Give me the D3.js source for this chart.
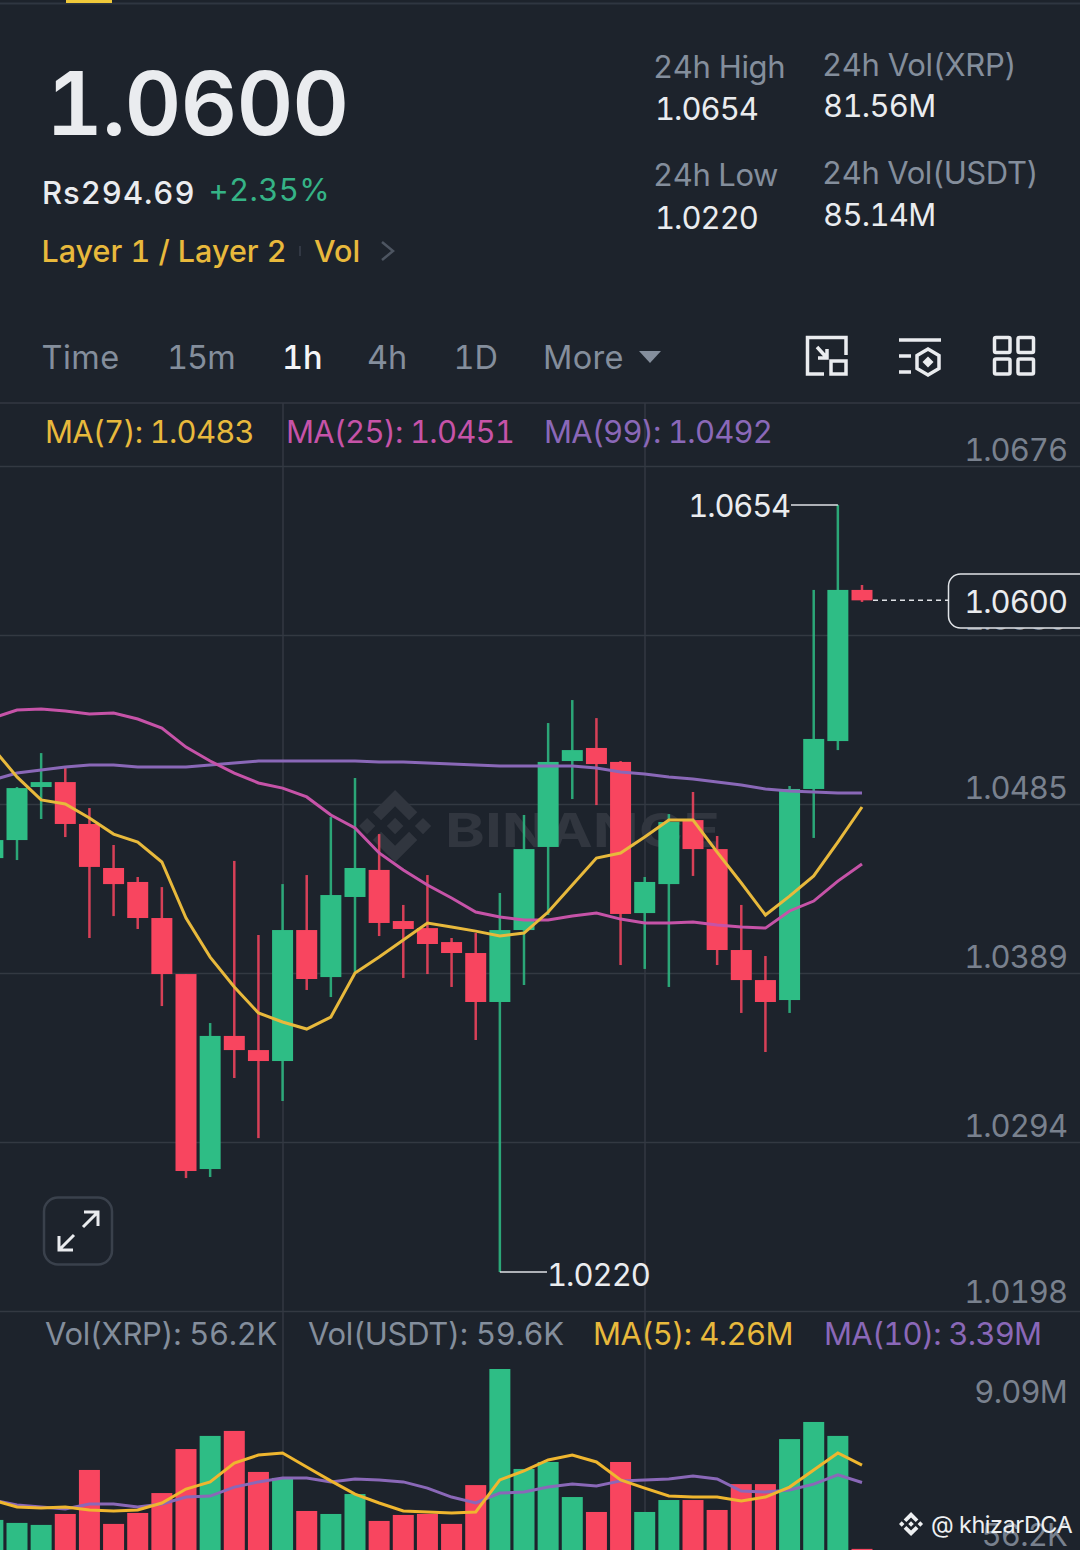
<!DOCTYPE html>
<html>
<head>
<meta charset="utf-8">
<script src="https://cdn.jsdelivr.net/npm/d3@7/dist/d3.min.js"></script>
<style>
html,body{margin:0;padding:0;background:#1d232c;width:1080px;height:1550px;overflow:hidden}
svg{display:block}
text{font-family:Inter,"Noto Sans",sans-serif;font-variant-numeric:tabular-nums;font-feature-settings:"tnum" 1}
</style>
</head>
<body>
<svg id="chart" width="1080" height="1550"></svg>
<script>
const priceOpen=[1.04542,1.04644,1.04944,1.04972,1.04735,1.04486,1.04407,1.04203,1.03886,1.02783,1.03536,1.03456,1.03394,1.04135,1.03869,1.04322,1.04475,1.04186,1.04146,1.04067,1.04005,1.03728,1.04135,1.04605,1.05091,1.05165,1.05086,1.04231,1.04395,1.04757,1.04593,1.04022,1.03852,1.03739,1.04933,1.05204,1.06059];
const priceClose=[1.04644,1.04938,1.04972,1.04735,1.04492,1.04395,1.04203,1.03886,1.02772,1.03536,1.03456,1.03394,1.04135,1.03858,1.04333,1.04486,1.04175,1.04141,1.04056,1.04005,1.03728,1.04135,1.04593,1.05086,1.05153,1.05074,1.04226,1.04407,1.04746,1.04593,1.04022,1.03852,1.03728,1.04933,1.05216,1.06059,1.0600];
const priceHigh=[1.04701,1.04944,1.05136,1.05052,1.04825,1.04616,1.04435,1.04378,1.03886,1.03609,1.04526,1.04107,1.04395,1.04446,1.04774,1.04995,1.04678,1.04277,1.04446,1.04090,1.04118,1.04344,1.04786,1.05306,1.05436,1.05334,1.05091,1.04435,1.04791,1.04916,1.04667,1.04277,1.03988,1.04950,1.06059,1.0654,1.06087];
const priceLow=[1.04542,1.04531,1.04763,1.04661,1.04090,1.04214,1.04141,1.03705,1.02732,1.02738,1.03298,1.02958,1.03168,1.03796,1.03756,1.03892,1.04101,1.03864,1.03886,1.03813,1.03513,1.0220,1.03824,1.04220,1.04876,1.04842,1.03937,1.03915,1.03813,1.04441,1.03937,1.03666,1.03445,1.03666,1.04656,1.05153,1.05991];
const ma7=[1.05165,1.05001,1.04871,1.04848,1.04769,1.04678,1.04633,1.04520,1.04203,1.03982,1.03813,1.03666,1.03615,1.03575,1.03643,1.03892,1.03982,1.04079,1.04175,1.04152,1.04129,1.04101,1.04118,1.04237,1.04390,1.04542,1.04571,1.04661,1.04757,1.04757,1.04576,1.04401,1.04220,1.04327,1.04441,1.04633,1.04831];
const ma25=[1.05334,1.05380,1.05385,1.05374,1.05357,1.05363,1.05329,1.05278,1.05170,1.05091,1.05023,1.04967,1.04938,1.04888,1.04786,1.04712,1.04571,1.04475,1.04390,1.04316,1.04237,1.04209,1.04192,1.04192,1.04214,1.04231,1.04197,1.04175,1.04175,1.04180,1.04163,1.04152,1.04146,1.04243,1.04299,1.04412,1.04509];
const ma99=[1.04984,1.05023,1.05040,1.05057,1.05069,1.05069,1.05057,1.05057,1.05057,1.05069,1.05080,1.05091,1.05091,1.05091,1.05091,1.05091,1.05086,1.05086,1.05080,1.05074,1.05069,1.05063,1.05063,1.05063,1.05063,1.05052,1.05029,1.05018,1.05001,1.04989,1.04972,1.04955,1.04933,1.04921,1.04916,1.04910,1.04910];
const volumes=[1.51,1.36,1.26,1.81,4.02,1.31,1.86,2.86,5.07,5.73,5.98,3.92,3.62,1.96,1.81,2.81,1.46,1.76,1.81,1.31,3.26,9.09,4.07,4.42,2.66,1.91,4.42,1.91,2.51,2.51,2.01,3.31,3.31,5.57,6.43,5.73,0.056];
const volMa5=[2.51,2.16,2.11,2.16,2.01,1.96,2.01,2.36,3.06,3.42,4.37,4.77,4.87,4.17,3.47,2.81,2.36,1.96,1.91,1.86,1.91,3.52,3.97,4.52,4.77,4.42,3.52,3.11,2.71,2.66,2.66,2.46,2.66,3.16,4.02,4.87,4.26];
const volMa10=[2.51,2.26,2.16,2.06,2.31,2.31,2.16,2.31,2.66,2.71,3.16,3.42,3.62,3.62,3.42,3.57,3.52,3.42,3.11,2.66,2.36,2.86,2.91,3.16,3.31,3.21,3.47,3.52,3.57,3.72,3.57,2.96,2.91,3.01,3.31,3.77,3.39];
const priceTicks=[1.0676,1.05804,1.04848,1.03892,1.02936,1.0198];
const volTicks=[9.09,0.0562];
const volTickLabels=["9.09M","56.2K"];
const timeTabs=["Time","15m","1h","4h","1D","More"];
const priceLegend=["MA(7): 1.0483","MA(25): 1.0451","MA(99): 1.0492"];
const volLegend=["Vol(XRP): 56.2K","Vol(USDT): 59.6K","MA(5): 4.26M","MA(10): 3.39M"];

const BG="#1d232c",GREEN="#2ebd85",RED="#f8455f",GRID="#333942",GREY="#848e9c",WHITE="#eaecef",
      YEL="#e8b93c",MAG="#c653a8",PUR="#8a68b8",LBL="#79818e";
const LOGO=["M38.73 53.2l24.59-24.58 24.6 24.6 14.3-14.31L63.32 0 24.43 38.9z",
  "M0 63.31l14.3-14.31 14.31 14.31-14.31 14.3z",
  "M38.73 73.41l24.59 24.59 24.6-24.6 14.31 14.29-38.9 38.91-38.91-38.88z",
  "M98 63.31l14.3-14.31 14.31 14.3-14.31 14.32z",
  "M77.83 63.3L63.32 48.78 52.59 59.51l-1.24 1.23-2.54 2.54 14.51 14.5 14.51-14.47z"].join("");
const svg=d3.select("#chart");
const idx=d3.range(priceOpen.length);
const x=d3.scaleLinear().domain([0,36]).range([-7.14,862]);
const y=d3.scaleLinear().domain([1.0198,1.0676]).range([1311,466]);
const yV=d3.scaleLinear().domain([0,9.09]).range([1550,1369]);
const BW=21;

function T(t,px,py,size,fill,weight,anchor,ls){
  return svg.append("text").text(t).attr("x",px).attr("y",py).attr("font-size",size)
    .attr("fill",fill).attr("font-weight",weight||400).attr("text-anchor",anchor||"start")
    .attr("letter-spacing",ls||0);
}
// top bar
svg.append("line").attr("x1",0).attr("x2",1080).attr("y1",3.5).attr("y2",3.5).attr("stroke","#2f3641").attr("stroke-width",2);
svg.append("rect").attr("x",66).attr("y",0).attr("width",46).attr("height",3).attr("fill","#f0c93a");

// header
T("1.0600",46,135,88,WHITE,600,"start",-1);
T("Rs294.69",42,204,31,WHITE,500,"start",1);
T("+2.35%",208.5,201,31,"#35b386",400,"start",.4);
T("Layer 1 / Layer 2",41.5,262,30.5,YEL,500);
T("Vol",314,262,30.5,YEL,500);
svg.append("line").attr("x1",300).attr("x2",300).attr("y1",246).attr("y2",256).attr("stroke","#3a414c").attr("stroke-width",1.5);
svg.append("path").attr("d","M382 242L393 251L382 260").attr("fill","none").attr("stroke","#4d5561").attr("stroke-width",2.5);
T("24h High",653,78,31,GREY,400,"start",-.3);
T("1.0654",655,120,31,WHITE,400,"start",-1);
T("24h Low",653,186,31,GREY,400,"start",-.4);
T("1.0220",655,229,31,WHITE,400,"start",-1);
T("24h Vol(XRP)",822,76,31,GREY,400,"start",-.3);
T("81.56M",823,117,31,WHITE,400,"start",-.7);
T("24h Vol(USDT)",822,184,31,GREY,400,"start",-.4);
T("85.14M",823,226,31,WHITE,400,"start",-.7);

// tabs
const tabX=[41.5,167,282,367,453.5,543];
const tabLs=[.5,-1,0,0,0,.3];
timeTabs.forEach((t,i)=>T(t,tabX[i],369,32.5,i===2?"#f4f5f7":GREY,i===2?500:400,"start",tabLs[i]));
svg.append("path").attr("d","M639 351H661L650 363Z").attr("fill",GREY);
// icons
const ic=svg.append("g").attr("fill","none").attr("stroke",WHITE).attr("stroke-width",3.5);
ic.append("path").attr("d","M824 374H807.5V337.5H846V355");
ic.append("rect").attr("x",831).attr("y",361).attr("width",15).attr("height",13);
ic.append("path").attr("d","M817 347L827 358M827 349V358H818");
ic.append("path").attr("d","M899 340H941M899 356H911M899 372H911");
ic.append("path").attr("d","M928 349L939 355.5V368.5L928 375L917 368.5V355.5Z");
svg.append("path").attr("d","M928 356.5L933.5 362L928 367.5L922.5 362Z").attr("fill",WHITE);
[[994.5,337.5],[1018,337.5],[994.5,359],[1018,359]].forEach(p=>ic.append("rect").attr("x",p[0]).attr("y",p[1]).attr("width",15.5).attr("height",15).attr("rx",1.5));

// separator and grid
svg.append("line").attr("x1",0).attr("x2",1080).attr("y1",403).attr("y2",403).attr("stroke",GRID).attr("stroke-width",1.5);
[283,645].forEach(v=>svg.append("line").attr("x1",v).attr("x2",v).attr("y1",403).attr("y2",1550).attr("stroke",GRID).attr("stroke-width",1.5));

const axP=svg.append("g").call(d3.axisRight(y).tickValues(priceTicks).tickSize(1080).tickFormat(d3.format(".4f")));
axP.select(".domain").remove();
axP.selectAll("line").attr("stroke",GRID).attr("stroke-width",1.5);
axP.selectAll("text").attr("x",1067).attr("dy",(d,i)=>i===5?-8.5:-5.5).attr("text-anchor","end").attr("font-size",31).attr("letter-spacing",-1).attr("fill",LBL).style("font-family","Inter");

// watermark
svg.append("path").attr("d",LOGO).attr("fill","#31363f").attr("transform","translate(359,790) scale(0.57)");
svg.append("text").text("BINANCE").attr("x",445).attr("y",847).attr("font-size",47).attr("font-weight",700)
  .attr("fill","#31363f").attr("textLength",275).attr("lengthAdjust","spacingAndGlyphs");

// candles
const col=i=>priceClose[i]>=priceOpen[i]?GREEN:RED;
const candles=svg.append("g");
candles.selectAll("line").data(idx).join("line")
  .attr("x1",x).attr("x2",x).attr("y1",i=>y(priceHigh[i])).attr("y2",i=>y(priceLow[i]))
  .attr("stroke",col).attr("stroke-opacity",.85).attr("stroke-width",2.5);
candles.selectAll("rect").data(idx).join("rect")
  .attr("x",i=>x(i)-BW/2).attr("width",BW)
  .attr("y",i=>y(Math.max(priceOpen[i],priceClose[i])))
  .attr("height",i=>Math.abs(y(priceOpen[i])-y(priceClose[i])))
  .attr("fill",col);

// MA lines
const lp=d3.line().x((d,i)=>x(i)).y(d=>y(d));
[[ma99,PUR],[ma25,MAG],[ma7,YEL]].forEach(s=>svg.append("path").attr("d",lp(s[0])).attr("fill","none").attr("stroke",s[1]).attr("stroke-width",3));

// price legend
[[priceLegend[0],45,YEL],[priceLegend[1],286,MAG],[priceLegend[2],544,PUR]].forEach(d=>T(d[0],d[1],443,31,d[2],400,"start",-.8));

// high/low markers
const hiI=d3.maxIndex(priceHigh),loI=d3.minIndex(priceLow);
svg.append("path").attr("d",`M${x(hiI)} ${y(priceHigh[hiI])}H791`).attr("stroke","#dfe2e6").attr("stroke-width",1.5).attr("fill","none");
T(d3.format(".4f")(priceHigh[hiI]),790,517,31,WHITE,400,"end",-1.2);
svg.append("path").attr("d",`M${x(loI)} ${y(priceLow[loI])}H547`).attr("stroke","#dfe2e6").attr("stroke-width",1.5).attr("fill","none");
T(d3.format(".4f")(priceLow[loI]),547,1286,31,WHITE,400,"start",-1);

// last price
const lastI=priceClose.length-1;
svg.append("line").attr("x1",x(lastI)+11).attr("x2",948).attr("y1",y(priceClose[lastI])).attr("y2",y(priceClose[lastI]))
  .attr("stroke","#dfe2e6").attr("stroke-width",1.5).attr("stroke-dasharray","5 4");
svg.append("rect").attr("x",948.5).attr("y",574).attr("width",150).attr("height",54).attr("rx",12).attr("fill",BG).attr("stroke","#dfe2e6").attr("stroke-width",1.5);
T(d3.format(".4f")(priceClose[lastI]),1067,613,31,WHITE,400,"end",-1);

// expand button
svg.append("rect").attr("x",44).attr("y",1197.5).attr("width",68).attr("height",67).attr("rx",14).attr("fill",BG).attr("stroke","#3a414c").attr("stroke-width",2.5);
svg.append("path").attr("d","M59 1250L74 1235M59 1236V1250H73M98 1212L83 1227M84 1212H98V1226").attr("fill","none").attr("stroke",WHITE).attr("stroke-width",3);

// volume legend
[[volLegend[0],45,GREY,-.35],[volLegend[1],308,GREY,-.3],[volLegend[2],593,YEL,-.6],[volLegend[3],824,PUR,-.75]].forEach(d=>T(d[0],d[1],1345,31,d[2],400,"start",d[3]));

// volume axis
const axV=svg.append("g").attr("transform","translate(1067,0)").call(d3.axisLeft(yV).tickValues(volTicks).tickSize(0).tickFormat((d,i)=>volTickLabels[i]));
axV.select(".domain").remove();
axV.selectAll("text").attr("x",0).attr("dy",(d,i)=>i===0?"33":"-3").attr("text-anchor","end").attr("font-size",31).attr("letter-spacing",-.8).attr("fill",LBL).style("font-family","Inter");

// volume bars
svg.append("g").selectAll("rect").data(idx).join("rect")
  .attr("x",i=>x(i)-BW/2).attr("width",BW)
  .attr("y",i=>yV(volumes[i])).attr("height",i=>1550-yV(volumes[i])).attr("fill",col);
const lv=d3.line().x((d,i)=>x(i)).y(d=>yV(d));
[[volMa10,PUR],[volMa5,"#efb62f"]].forEach(s=>svg.append("path").attr("d",lv(s[0])).attr("fill","none").attr("stroke",s[1]).attr("stroke-width",3));

// footer tag
svg.append("path").attr("d",LOGO).attr("fill","#eef0f2").attr("transform","translate(899,1512) scale(0.19)");
T("@ khizarDCA",931,1533,23.5,"#eef0f2",400,"start",-.5);
</script>
</body>
</html>
